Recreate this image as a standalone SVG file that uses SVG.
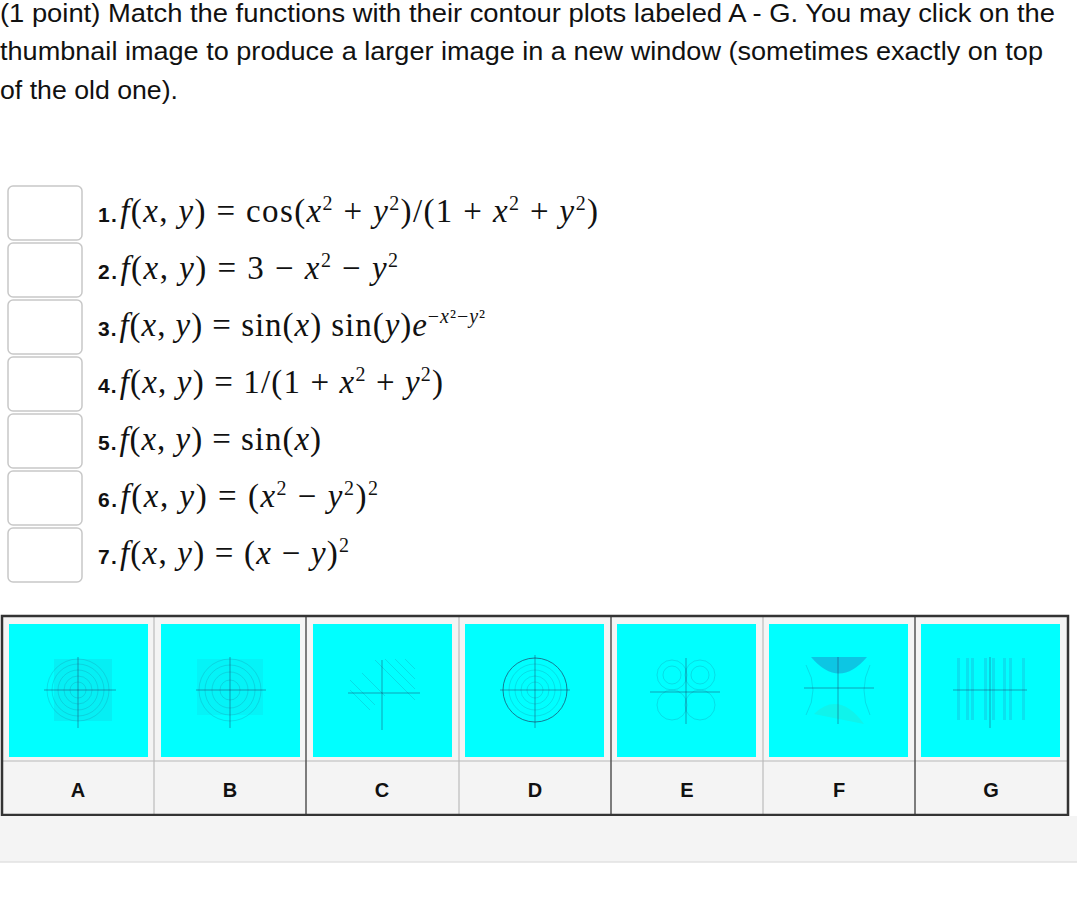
<svg xmlns="http://www.w3.org/2000/svg" width="1077" height="915" viewBox="0 0 1077 915">
<style>
.h{font-family:"Liberation Sans",Arial,sans-serif;font-size:26.5px;fill:#111}
.n{font-family:"Liberation Sans",Arial,sans-serif;font-size:21px;font-weight:bold;fill:#111}
.m{font-family:"Liberation Serif","Times New Roman",serif;font-size:33px;fill:#111}
.i{font-style:italic}
.sup{font-size:20px}
.box{fill:#fff;stroke:#c8c8c8;stroke-width:1.5}
.th{fill:#00ffff}
.lab{font-family:"Liberation Sans",Arial,sans-serif;font-size:20px;font-weight:bold;fill:#111;text-anchor:middle}
.ax{stroke:#225;stroke-width:0.6;fill:none;opacity:0.7}
.c{stroke:#1a7a9a;stroke-width:0.5;fill:none;opacity:0.5}
</style>
<rect width="1077" height="915" fill="#fff"/>
<text class="h" x="0" y="22" textLength="1055" lengthAdjust="spacingAndGlyphs">(1 point) Match the functions with their contour plots labeled A - G. You may click on the</text>
<text class="h" x="0" y="60" textLength="1043" lengthAdjust="spacingAndGlyphs">thumbnail image to produce a larger image in a new window (sometimes exactly on top</text>
<text class="h" x="0" y="99" textLength="178" lengthAdjust="spacingAndGlyphs">of the old one).</text>
<g id="boxes">
<rect class="box" x="8" y="186" width="74" height="54" rx="5"/>
<rect class="box" x="8" y="243" width="74" height="54" rx="5"/>
<rect class="box" x="8" y="300" width="74" height="54" rx="5"/>
<rect class="box" x="8" y="357" width="74" height="54" rx="5"/>
<rect class="box" x="8" y="414" width="74" height="54" rx="5"/>
<rect class="box" x="8" y="471" width="74" height="54" rx="5"/>
<rect class="box" x="8" y="528" width="74" height="54" rx="5"/>
</g>
<g id="functions">
<text x="98" y="222" textLength="500" lengthAdjust="spacing"><tspan class="n">1.</tspan><tspan class="m" dx="2"><tspan class="i">f</tspan>(<tspan class="i">x</tspan>, <tspan class="i">y</tspan>) = cos(<tspan class="i">x</tspan><tspan class="sup" dy="-12">2</tspan><tspan dy="12"> + </tspan><tspan class="i">y</tspan><tspan class="sup" dy="-12">2</tspan><tspan dy="12">)/(1 + </tspan><tspan class="i">x</tspan><tspan class="sup" dy="-12">2</tspan><tspan dy="12"> + </tspan><tspan class="i">y</tspan><tspan class="sup" dy="-12">2</tspan><tspan dy="12">)</tspan></tspan></text>
<text x="98" y="279" textLength="300" lengthAdjust="spacing"><tspan class="n">2.</tspan><tspan class="m" dx="2"><tspan class="i">f</tspan>(<tspan class="i">x</tspan>, <tspan class="i">y</tspan>) = 3 − <tspan class="i">x</tspan><tspan class="sup" dy="-12">2</tspan><tspan dy="12"> − </tspan><tspan class="i">y</tspan><tspan class="sup" dy="-12">2</tspan></tspan></text>
<text x="98" y="336" textLength="387" lengthAdjust="spacing"><tspan class="n">3.</tspan><tspan class="m" dx="2"><tspan class="i">f</tspan>(<tspan class="i">x</tspan>, <tspan class="i">y</tspan>) = sin(<tspan class="i">x</tspan>) sin(<tspan class="i">y</tspan>)<tspan class="i">e</tspan><tspan class="sup" dy="-13">−<tspan class="i">x</tspan>²−<tspan class="i">y</tspan>²</tspan></tspan></text>
<text x="98" y="393" textLength="345" lengthAdjust="spacing"><tspan class="n">4.</tspan><tspan class="m" dx="2"><tspan class="i">f</tspan>(<tspan class="i">x</tspan>, <tspan class="i">y</tspan>) = 1/(1 + <tspan class="i">x</tspan><tspan class="sup" dy="-12">2</tspan><tspan dy="12"> + </tspan><tspan class="i">y</tspan><tspan class="sup" dy="-12">2</tspan><tspan dy="12">)</tspan></tspan></text>
<text x="98" y="450" textLength="223" lengthAdjust="spacing"><tspan class="n">5.</tspan><tspan class="m" dx="2"><tspan class="i">f</tspan>(<tspan class="i">x</tspan>, <tspan class="i">y</tspan>) = sin(<tspan class="i">x</tspan>)</tspan></text>
<text x="98" y="507" textLength="280" lengthAdjust="spacing"><tspan class="n">6.</tspan><tspan class="m" dx="2"><tspan class="i">f</tspan>(<tspan class="i">x</tspan>, <tspan class="i">y</tspan>) = (<tspan class="i">x</tspan><tspan class="sup" dy="-12">2</tspan><tspan dy="12"> − </tspan><tspan class="i">y</tspan><tspan class="sup" dy="-12">2</tspan><tspan dy="12">)</tspan><tspan class="sup" dy="-12">2</tspan></tspan></text>
<text x="98" y="564" textLength="251" lengthAdjust="spacing"><tspan class="n">7.</tspan><tspan class="m" dx="2"><tspan class="i">f</tspan>(<tspan class="i">x</tspan>, <tspan class="i">y</tspan>) = (<tspan class="i">x</tspan> − <tspan class="i">y</tspan>)<tspan class="sup" dy="-12">2</tspan></tspan></text>
</g>
<g id="table">
<rect x="2" y="616" width="1066" height="199" fill="#f4f4f4"/>
<line x1="2" y1="761" x2="1068" y2="761" stroke="#ccc" stroke-width="1.5"/>
<g stroke="#bbb" stroke-width="1.2">
<line x1="154" y1="616" x2="154" y2="815"/><line x1="459" y1="616" x2="459" y2="815"/><line x1="763" y1="616" x2="763" y2="815"/>
</g>
<g stroke="#555" stroke-width="1.5">
<line x1="306" y1="616" x2="306" y2="815"/><line x1="611" y1="616" x2="611" y2="815"/><line x1="915" y1="616" x2="915" y2="815"/>
</g>
<rect x="2" y="616" width="1066" height="199" fill="none" stroke="#333" stroke-width="2.5"/>
<rect class="th" x="9" y="624" width="139" height="133"/>
<rect class="th" x="161" y="624" width="139" height="133"/>
<rect class="th" x="313" y="624" width="139" height="133"/>
<rect class="th" x="465" y="624" width="139" height="133"/>
<rect class="th" x="617" y="624" width="139" height="133"/>
<rect class="th" x="769" y="624" width="139" height="133"/>
<rect class="th" x="921" y="624" width="139" height="133"/>
<g><rect x="54" y="659" width="58" height="62" fill="#20b0c8" opacity="0.2"/>
<circle class="c" cx="78" cy="690" r="8"/><circle class="c" cx="78" cy="690" r="14"/><circle class="c" cx="78" cy="690" r="20"/><circle class="c" cx="78" cy="690" r="26"/><circle class="c" cx="78" cy="690" r="31"/>
<path class="ax" d="M44 690H116M78 657V728"/></g>
<g><rect x="197" y="659" width="66" height="56" fill="#20b0c8" opacity="0.15"/>
<circle class="c" cx="230" cy="690" r="10"/><circle class="c" cx="230" cy="690" r="18"/><circle class="c" cx="230" cy="690" r="25"/><circle class="c" cx="230" cy="690" r="31"/>
<path class="ax" d="M196 690H266M230 657V728"/></g>
<g><path class="c" d="M375 660L415 700M385 659L415 689M395 659L415 679M405 659L415 669M362 673L385 696M350 680L375 705M350 690L370 710"/>
<path class="ax" d="M348 693H420M382 660V730"/></g>
<g><circle cx="535" cy="690" r="32" fill="none" stroke="#1a5a7a" stroke-width="0.8"/><circle class="c" cx="535" cy="690" r="26"/><circle class="c" cx="535" cy="690" r="20"/><circle class="c" cx="535" cy="690" r="14"/><circle class="c" cx="535" cy="690" r="8"/>
<path class="ax" d="M500 690H570M535 655V728"/></g>
<g><ellipse class="c" cx="672" cy="675" rx="15" ry="15"/><ellipse class="c" cx="700" cy="675" rx="15" ry="15"/><ellipse class="c" cx="672" cy="705" rx="15" ry="15"/><ellipse class="c" cx="700" cy="705" rx="15" ry="15"/><ellipse class="c" cx="672" cy="675" rx="9" ry="9"/><ellipse class="c" cx="700" cy="675" rx="9" ry="9"/>
<path class="ax" d="M650 692H720M686 658V724"/></g>
<g><path d="M811 657Q839 690 867 657Z" fill="#2070b8" opacity="0.4"/><path d="M814 714Q839 690 864 724Z" fill="#40d0b0" opacity="0.25"/>
<path class="c" d="M806 665Q820 690 806 715M870 665Q858 690 870 715"/>
<path class="ax" d="M804 688H874M838 657V724"/></g>
<g fill="#2a90c0" opacity="0.25"><rect x="957" y="658" width="3" height="62"/><rect x="966" y="658" width="3" height="62"/><rect x="971" y="658" width="3" height="62"/><rect x="984" y="658" width="3" height="62"/><rect x="992" y="658" width="3" height="62"/><rect x="1003" y="658" width="3" height="62"/><rect x="1009" y="658" width="3" height="62"/><rect x="1022" y="658" width="3" height="62"/></g>
<path class="ax" d="M953 690H1027M990 657V728"/>
<text class="lab" x="78" y="797">A</text>
<text class="lab" x="230" y="797">B</text>
<text class="lab" x="382" y="797">C</text>
<text class="lab" x="535" y="797">D</text>
<text class="lab" x="687" y="797">E</text>
<text class="lab" x="839" y="797">F</text>
<text class="lab" x="991" y="797">G</text>
</g>
<rect x="0" y="816" width="1077" height="46" fill="#f4f4f4"/>
<line x1="0" y1="862" x2="1077" y2="862" stroke="#e2e2e2" stroke-width="1.5"/>
</svg>
